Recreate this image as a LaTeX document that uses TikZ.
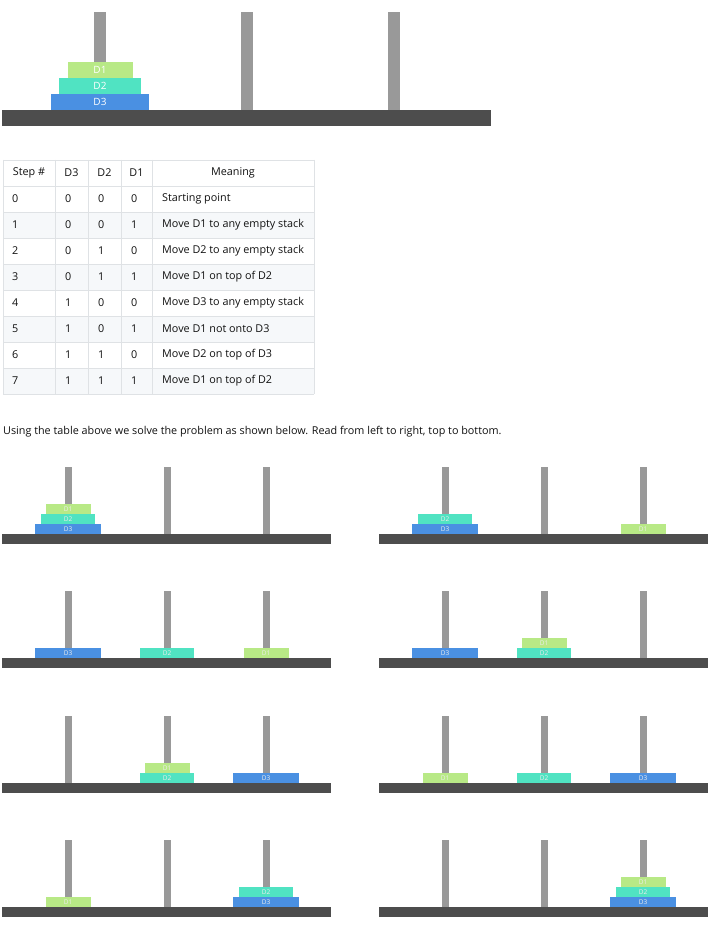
\documentclass[tikz,border=0pt]{standalone}
\usepackage{fontspec}
\setmainfont{Open Sans}
\begin{document}
\begin{tikzpicture}[x=1pt,y=-1pt,
  base/.style={fill=basec,draw=none},
  peg/.style={fill=pegc,draw=none},
  cell/.style={anchor=west,inner sep=0pt,font=\fontsize{10.8}{12}\selectfont,text=textc},
  ccell/.style={anchor=center,inner sep=0pt,font=\fontsize{10.8}{12}\selectfont,text=textc},
  gridl/.style={draw=gridc,line width=0.8pt}]
\definecolor{basec}{HTML}{4D4D4D}
\definecolor{pegc}{HTML}{999999}
\definecolor{dthree}{HTML}{4A90E2}
\definecolor{dtwo}{HTML}{50E3C2}
\definecolor{done}{HTML}{B8E986}
\definecolor{gridc}{HTML}{DFE2E5}
\definecolor{rowshade}{HTML}{F6F8FA}
\definecolor{textc}{HTML}{111111}
\useasboundingbox (0,0) rectangle (724,925);
\fill[white] (0,0) rectangle (724,925);
% big board
\fill[base] (2,110) rectangle (491,126);
\foreach \p in {100,247,394} \fill[peg] (\p-6,12) rectangle (\p+6,110);
\newcommand\bdisk[5]{\node[fill=#4,minimum width=#3,minimum height=16,inner sep=0pt,anchor=south,text=white,font=\fontsize{10}{10}\selectfont] at (#1,#2) {#5};}
\bdisk{100}{110}{98}{dthree}{D3}
\bdisk{100}{94}{82}{dtwo}{D2}
\bdisk{100}{78}{65}{done}{D1}
% table
\foreach \r in {1,3,5,7} \fill[rowshade] (3,186+26*\r) rectangle (314,212+26*\r);
\foreach \r in {0,...,9} \draw[gridl] (3,160+26*\r) -- (314,160+26*\r);
\foreach \c in {3,55,88,121,152,314} \draw[gridl] (\c,160) -- (\c,394);
\node[ccell] (h0) at (29,173) {Step \#};
\node[ccell] (h1) at (71.5,173) {D3};
\node[ccell] (h2) at (104.5,173) {D2};
\node[ccell] (h3) at (136.5,173) {D1};
\node[ccell] (h4) at (233,173) {Meaning};
\foreach \s/\a/\b/\c/\m [count=\i from 0] in {0/0/0/0/Starting point,1/0/0/1/Move D1 to any empty stack,2/0/1/0/Move D2 to any empty stack,3/0/1/1/Move D1 on top of D2,4/1/0/0/Move D3 to any empty stack,5/1/0/1/Move D1 not onto D3,6/1/1/0/Move D2 on top of D3,7/1/1/1/Move D1 on top of D2}{
  \node[cell] (s\i) at (12,199+26*\i) {\s};
  \node[cell] (a\i) at (65,199+26*\i) {\a};
  \node[cell] (b\i) at (98,199+26*\i) {\b};
  \node[cell] (c\i) at (131,199+26*\i) {\c};
  \node[cell] (m\i) at (162,199+26*\i) {\m};
}
\node[cell] (txt) at (3,432) {Using the table above we solve the problem as shown below. Read from left to right, top to bottom.};
% small boards
\newcommand\sboard[2]{\fill[base] (#1,#2) rectangle (#1+329,#2+10);
  \foreach \p in {66,165,264} \fill[peg] (#1+\p-3.5,#2-67) rectangle (#1+\p+3.5,#2);}
\newcommand\sdisk[5]{\node[fill=#4,minimum width=#3,minimum height=10,inner sep=0pt,anchor=south,text=white!85!gray,font=\fontsize{6.5}{6.5}\selectfont] at (#1,#2) {#5};}
\newcommand\Dthree[2]{\sdisk{#1}{#2}{66}{dthree}{D3}}
\newcommand\Dtwo[2]{\sdisk{#1}{#2}{54}{dtwo}{D2}}
\newcommand\Done[2]{\sdisk{#1}{#2}{45}{done}{D1}}
% row 1
\sboard{2}{534}
\Dthree{68}{534}\Dtwo{68}{524}\Done{68}{514}
\sboard{379}{534}
\Dthree{445}{534}\Dtwo{445}{524}\Done{643}{534}
% row 2
\sboard{2}{658}
\Dthree{68}{658}\Dtwo{167}{658}\Done{266}{658}
\sboard{379}{658}
\Dthree{445}{658}\Dtwo{544}{658}\Done{544}{648}
% row 3
\sboard{2}{783}
\Dtwo{167}{783}\Done{167}{773}\Dthree{266}{783}
\sboard{379}{783}
\Done{445}{783}\Dtwo{544}{783}\Dthree{643}{783}
% row 4
\sboard{2}{907}
\Done{68}{907}\Dthree{266}{907}\Dtwo{266}{897}
\sboard{379}{907}
\Dthree{643}{907}\Dtwo{643}{897}\Done{643}{887}
\end{tikzpicture}
\end{document}
